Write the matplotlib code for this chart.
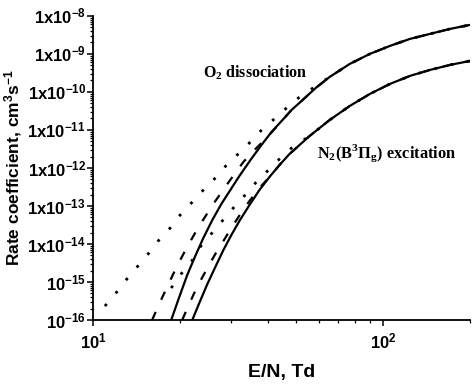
import numpy as np
import matplotlib
matplotlib.use("Agg")
import matplotlib.pyplot as plt

plt.rcParams['mathtext.fontset'] = 'custom'
plt.rcParams['mathtext.rm'] = 'Liberation Serif:bold'
plt.rcParams['mathtext.sf'] = 'Liberation Sans:bold'
plt.rcParams['mathtext.bf'] = 'Liberation Sans:bold'
plt.rcParams['mathtext.default'] = 'sf'

# O2 dissociation
o2_solid_x = [18.62, 19.85, 21.15, 22.54, 24.03, 25.81, 27.73, 29.79, 32.00, 34.94,
              38.14, 41.30, 45.08, 48.43, 52.45, 58.65, 65.54, 76.89, 90.18, 105.7,
              124.0, 145.4, 170.6, 200]
o2_solid_y = [1e-16, 4.03e-16, 1.53e-15, 4.83e-15, 1.44e-14, 4.28e-14, 1.13e-13,
              2.64e-13, 6.16e-13, 1.62e-12, 4.03e-12, 8.86e-12, 1.83e-11, 3.36e-11,
              5.80e-11, 1.27e-10, 2.48e-10, 5.46e-10, 1.0e-9, 1.62e-9, 2.48e-9,
              3.36e-9, 4.55e-9, 5.80e-9]
o2_dash_x = [16.00, 16.92, 17.89, 18.92, 20.00, 21.32, 22.72, 24.22, 26.02, 27.95,
             30.27, 33.04, 36.36, 40.00, 45.08, 48.43, 52.45, 58.65, 65.54, 76.89,
             90.18, 105.7, 124.0, 145.4, 170.6, 200]
o2_dash_y = [1e-16, 2.64e-16, 6.54e-16, 1.62e-15, 3.79e-15, 9.42e-15, 2.20e-14,
             4.83e-14, 1.13e-13, 2.48e-13, 5.80e-13, 1.44e-12, 3.16e-12, 6.54e-12,
             1.83e-11, 3.36e-11, 5.80e-11, 1.27e-10, 2.48e-10, 5.46e-10, 1.0e-9,
             1.62e-9, 2.48e-9, 3.36e-9, 4.55e-9, 5.80e-9]
o2_dot_x = [11.00, 12.01, 13.01, 14.20, 15.50, 16.79, 18.47, 20.00, 22.01, 24.22,
            26.65, 29.09, 32.26, 35.21, 38.45, 42.64, 46.54, 51.62, 56.79, 65.54,
            76.89, 90.18, 105.7, 124.0, 145.4, 170.6, 200]
o2_dot_y = [2.33e-16, 5.14e-16, 1.13e-15, 2.48e-15, 5.46e-15, 1.20e-14, 2.64e-14,
            5.80e-14, 1.27e-13, 2.80e-13, 5.80e-13, 1.27e-12, 2.64e-12, 5.14e-12,
            1.06e-11, 2.07e-11, 3.79e-11, 7.38e-11, 1.20e-10, 2.48e-10, 5.46e-10,
            1.0e-9, 1.62e-9, 2.48e-9, 3.36e-9, 4.55e-9, 5.80e-9]

# N2(B3Pi_g) excitation
n2_solid_x = [22.01, 23.27, 24.81, 26.43, 28.18, 30.03, 32.00, 34.66, 37.53, 40.64,
              44.02, 47.67, 51.62, 55.90, 65.54, 76.89, 90.18, 105.7, 124.0, 145.4,
              170.6, 200]
n2_solid_y = [1e-16, 2.80e-16, 8.85e-16, 2.48e-15, 6.95e-15, 1.73e-14, 4.03e-14,
              1.06e-13, 2.64e-13, 5.80e-13, 1.20e-12, 2.34e-12, 4.03e-12, 6.95e-12,
              1.83e-11, 4.28e-11, 8.85e-11, 1.62e-10, 2.64e-10, 3.79e-10, 5.14e-10,
              6.54e-10]
n2_dash_x = [20.32, 21.32, 22.36, 23.46, 24.81, 26.43, 28.18, 30.03, 32.26, 34.66,
             37.53, 40.64, 44.02, 47.67, 51.62, 55.90, 65.54, 76.89, 90.18, 105.7,
             124.0, 145.4, 170.6, 200]
n2_dash_y = [1e-16, 2.33e-16, 5.14e-16, 1.06e-15, 2.33e-15, 5.46e-15, 1.20e-14,
             2.64e-14, 6.16e-14, 1.35e-13, 2.98e-13, 5.80e-13, 1.20e-12, 2.34e-12,
             4.03e-12, 6.95e-12, 1.83e-11, 4.28e-11, 8.85e-11, 1.62e-10, 2.64e-10,
             3.79e-10, 5.14e-10, 6.54e-10]
n2_dot_x = [18.62, 20.00, 21.83, 23.27, 25.41, 27.73, 30.27, 33.04, 36.36, 40.00,
            44.02, 48.43, 55.90, 65.54, 76.89, 90.18, 105.7, 124.0, 145.4, 170.6, 200]
n2_dot_y = [6.95e-16, 1.53e-15, 3.36e-15, 7.85e-15, 1.73e-14, 3.79e-14, 8.34e-14,
            1.73e-13, 4.03e-13, 8.34e-13, 1.73e-12, 3.36e-12, 6.95e-12, 1.83e-11,
            4.28e-11, 8.85e-11, 1.62e-10, 2.64e-10, 3.79e-10, 5.14e-10, 6.54e-10]

y_ticks = [1e-16, 1e-15, 1e-14, 1e-13, 1e-12, 1e-11, 1e-10, 1e-9, 1e-8]
y_labels = [r'$10^{-16}$', r'$10^{-15}$', r'$1x10^{-14}$', r'$1x10^{-13}$',
            r'$1x10^{-12}$', r'$1x10^{-11}$', r'$1x10^{-10}$', r'$1x10^{-9}$',
            r'$1x10^{-8}$']
x_ticks = [10, 100]
x_labels = [r'$10^1$', r'$10^2$']

fig = plt.figure(figsize=(4.74, 3.87), dpi=100)
ax = fig.add_axes([0.196, 0.173, 0.796, 0.786])

lw = 1.6
dotted = (0, (1, 5))
dashed = (0, (4, 6))
ax.plot(o2_solid_x, o2_solid_y, 'k-', lw=lw)
ax.plot(o2_dash_x, o2_dash_y, color='k', lw=lw, ls=dashed)
ax.plot(o2_dot_x, o2_dot_y, color='k', lw=2, ls=dotted)
ax.plot(n2_solid_x, n2_solid_y, 'k-', lw=lw)
ax.plot(n2_dash_x, n2_dash_y, color='k', lw=lw, ls=dashed)
ax.plot(n2_dot_x, n2_dot_y, color='k', lw=2, ls=dotted)

ax.set_xscale('log')
ax.set_yscale('log')
ax.set_xlim(10, 200)
ax.set_ylim(1e-16, 1e-8)
ax.set_yticks(y_ticks)
ax.set_yticklabels(y_labels)
ax.set_xticks(x_ticks)
ax.set_xticklabels(x_labels)
ax.yaxis.set_minor_locator(matplotlib.ticker.LogLocator(base=10, subs=np.arange(2, 10), numticks=20))
ax.yaxis.set_minor_formatter(matplotlib.ticker.NullFormatter())
ax.xaxis.set_minor_formatter(matplotlib.ticker.NullFormatter())

ax.spines['top'].set_visible(False)
ax.spines['right'].set_visible(False)
for s in ('left', 'bottom'):
    ax.spines[s].set_linewidth(1.3)
ax.tick_params(which='major', direction='out', length=4, width=1.1, labelsize=12, pad=1)
ax.tick_params(which='minor', direction='out', length=2.5, width=0.9)
ax.tick_params(axis='x', which='major', pad=5)

ax.set_xlabel('E/N, Td', fontsize=14, family='Liberation Sans', weight='bold', labelpad=8)
ax.set_ylabel('Rate coefficient, cm$^3$s$^{-1}$', fontsize=12.5,
              family='Liberation Sans', weight='bold', labelpad=2)

ax.text(24.0, 2.45e-10, r'O$_\mathrm{2}$ dissociation', fontsize=11.5,
        family='Liberation Serif', weight='bold', va='baseline')
ax.text(59.2, 1.95e-12, r'N$_\mathrm{2}$(B$^\mathrm{3}\mathrm{\Pi}_\mathrm{g}$) excitation',
        fontsize=11.8, family='Liberation Serif', weight='bold', va='baseline')

fig.savefig('out.png', dpi=100)
